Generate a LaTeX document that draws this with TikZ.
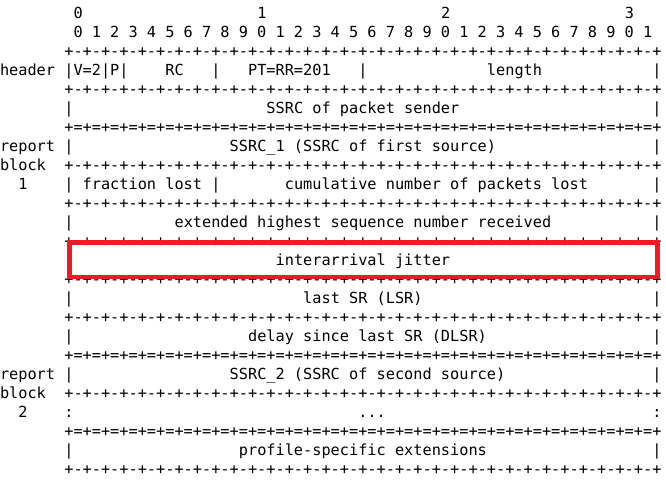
\documentclass[tikz,border=0pt]{standalone}
\usepackage{fontspec}
\newfontfamily\monof{DejaVu Sans Mono}
\definecolor{boxred}{RGB}{237,28,36}
\newcommand{\cell}[4]{\node[tt] (#1) at ({9.1875*#2},{18.3+19*#3}) {#4};}
\newcommand{\dashrow}{+-+-+-+-+-+-+-+-+-+-+-+-+-+-+-+-+-+-+-+-+-+-+-+-+-+-+-+-+-+-+-+-+}
\newcommand{\eqrow}{+=+=+=+=+=+=+=+=+=+=+=+=+=+=+=+=+=+=+=+=+=+=+=+=+=+=+=+=+=+=+=+=+}
\begin{document}
\frenchspacing
\begin{tikzpicture}[x=1pt,y=-1pt,
  tt/.style={anchor=base west, inner sep=0pt, outer sep=0pt,
    font=\monof\fontsize{15.26}{19}\selectfont, text=black},
  hlbox/.style={draw=boxred, line width=4.7pt, inner sep=0pt,
    minimum width=588pt, minimum height=34.7pt}]
\useasboundingbox[fill=white] (0,0) rectangle (666,482);
% bit numbers
\cell{d0}{8}{0}{0}
\cell{d1}{28}{0}{1}
\cell{d2}{48}{0}{2}
\cell{d3}{68}{0}{3}
\cell{bits}{8}{1}{0 1 2 3 4 5 6 7 8 9 0 1 2 3 4 5 6 7 8 9 0 1 2 3 4 5 6 7 8 9 0 1}
\cell{b2}{7}{2}{\dashrow}
% header
\cell{lhdr}{0}{3}{header}
\cell{vp}{7}{3}{|V=2|P|}
\cell{rc}{18}{3}{RC}
\cell{s3a}{23}{3}{|}
\cell{pt}{27}{3}{PT=RR=201}
\cell{s3b}{39}{3}{|}
\cell{len}{53}{3}{length}
\cell{e3}{71}{3}{|}
\cell{b4}{7}{4}{\dashrow}
% sender
\cell{l5}{7}{5}{|}
\cell{sender}{29}{5}{SSRC of packet sender}
\cell{e5}{71}{5}{|}
\cell{b6}{7}{6}{\eqrow}
% report block 1
\cell{rep1}{0}{7}{report}
\cell{l7}{7}{7}{|}
\cell{ssrc1}{25}{7}{SSRC\_1 (SSRC of first source)}
\cell{e7}{71}{7}{|}
\cell{blk1}{0}{8}{block}
\cell{b8}{7}{8}{\dashrow}
\cell{n1}{2}{9}{1}
\cell{l9}{7}{9}{|}
\cell{frac}{9}{9}{fraction lost}
\cell{s9}{23}{9}{|}
\cell{cum}{31}{9}{cumulative number of packets lost}
\cell{e9}{71}{9}{|}
\cell{b10}{7}{10}{\dashrow}
\cell{l11}{7}{11}{|}
\cell{ext}{19}{11}{extended highest sequence number received}
\cell{e11}{71}{11}{|}
\cell{b12}{7}{12}{\dashrow}
\cell{l13}{7}{13}{|}
\cell{jit}{30}{13}{interarrival jitter}
\cell{e13}{71}{13}{|}
\cell{b14}{7}{14}{\dashrow}
\cell{l15}{7}{15}{|}
\cell{lsr}{33}{15}{last SR (LSR)}
\cell{e15}{71}{15}{|}
\cell{b16}{7}{16}{\dashrow}
\cell{l17}{7}{17}{|}
\cell{dlsr}{27}{17}{delay since last SR (DLSR)}
\cell{e17}{71}{17}{|}
\cell{b18}{7}{18}{\eqrow}
% report block 2
\cell{rep2}{0}{19}{report}
\cell{l19}{7}{19}{|}
\cell{ssrc2}{25}{19}{SSRC\_2 (SSRC of second source)}
\cell{e19}{71}{19}{|}
\cell{blk2}{0}{20}{block}
\cell{b20}{7}{20}{\dashrow}
\cell{n2}{2}{21}{2}
\cell{l21}{7}{21}{:}
\cell{dots}{39}{21}{...}
\cell{e21}{71}{21}{:}
\cell{b22}{7}{22}{\eqrow}
\cell{l23}{7}{23}{|}
\cell{prof}{26}{23}{profile-specific extensions}
\cell{e23}{71}{23}{|}
\cell{b24}{7}{24}{\dashrow}
% highlight
\node[hlbox] (hl) at (363.5,259.65) {};
\end{tikzpicture}
\end{document}
